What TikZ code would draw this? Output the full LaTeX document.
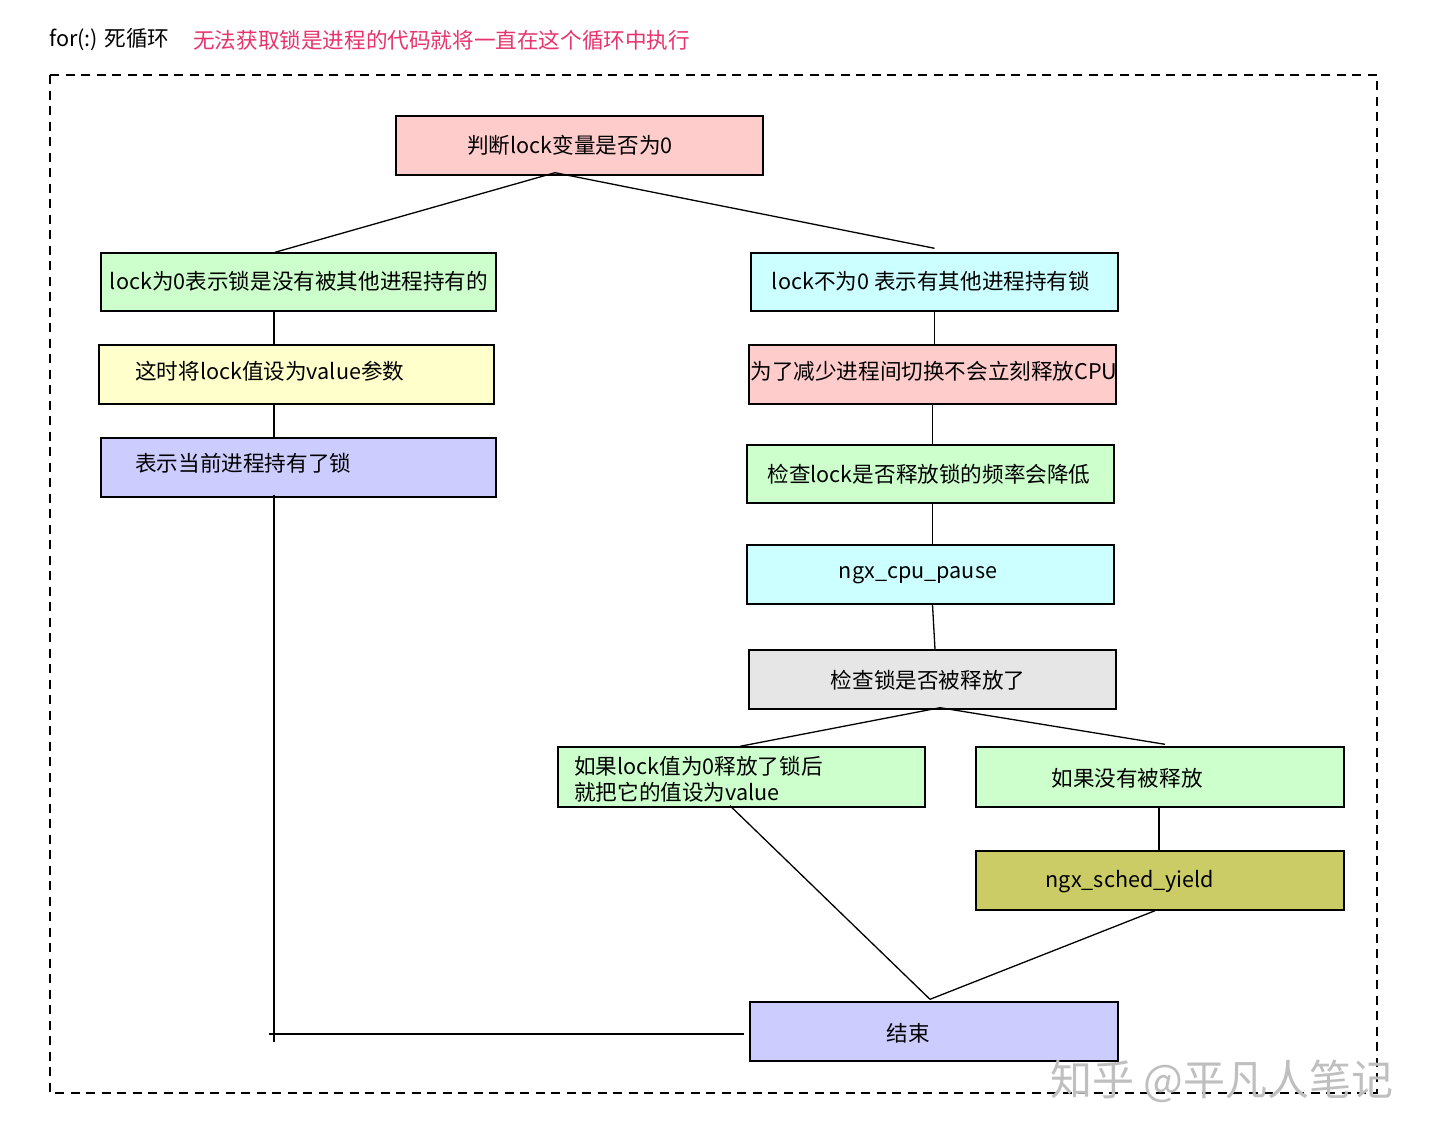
\documentclass[tikz,border=0pt]{standalone}
\usepackage{fontspec}
\setmainfont{Noto Sans CJK SC}
\definecolor{cpink}{RGB}{255,204,204}
\definecolor{cgreen}{RGB}{204,255,204}
\definecolor{ccyan}{RGB}{204,255,255}
\definecolor{cyellow}{RGB}{255,255,204}
\definecolor{cblue}{RGB}{204,204,255}
\definecolor{cgray}{RGB}{230,230,230}
\definecolor{colive}{RGB}{204,204,102}
\definecolor{cred}{RGB}{232,52,110}
\begin{document}
\begin{tikzpicture}[x=1pt,y=-1pt,
  box/.style={draw=black,line width=1.4pt,inner sep=0pt,minimum width=367pt,minimum height=59pt},
  txt/.style={inner sep=0pt,font=\fontsize{21.6}{26}\selectfont,text=black},
  conn/.style={draw=black,line width=1.3pt}]
\useasboundingbox (0,0) rectangle (1440,1140);
\fill[white] (0,0) rectangle (1440,1140);

% title
\node[txt,anchor=west] (t1) at (49,40) {for(:) 死循环};
\node[txt,anchor=west,text=cred] (t2) at (193,40) {无法获取锁是进程的代码就将一直在这个循环中执行};

% dashed frame
\draw[line width=1.4pt,dash pattern=on 9pt off 6.5pt] (50,75) rectangle (1377,1093);

% boxes
\node[box,fill=cpink] (A) at (579.5,145.5) {};
\node[box,fill=cgreen,minimum width=395pt,minimum height=58pt] (B) at (298.5,282) {};
\node[box,fill=ccyan,minimum height=58pt] (C) at (934.5,282) {};
\node[box,fill=cyellow,minimum width=395pt] (D) at (296.5,374.5) {};
\node[box,fill=cblue,minimum width=395pt] (E) at (298.5,467.5) {};
\node[box,fill=cpink] (F) at (932.5,374.5) {};
\node[box,fill=cgreen,minimum height=58pt] (G) at (930.5,474) {};
\node[box,fill=ccyan] (H) at (930.5,574.5) {};
\node[box,fill=cgray] (I) at (932.5,679.5) {};
\node[box,fill=cgreen,minimum height=60pt] (J) at (741.5,777) {};
\node[box,fill=cgreen,minimum width=368pt,minimum height=60pt] (K) at (1160,777) {};
\node[box,fill=colive,minimum width=368pt] (L) at (1160,880.5) {};
\node[box,fill=cblue,minimum width=368pt] (M) at (934,1031.5) {};

% texts
\node[txt] (At) at (570,145) {判断lock变量是否为0};
\node[txt] (Bt) at (299,281) {lock为0表示锁是没有被其他进程持有的};
\node[txt] (Ct) at (931,281) {lock不为0 表示有其他进程持有锁};
\node[txt,anchor=west] (Dt) at (135,371) {这时将lock值设为value参数};
\node[txt,anchor=west] (Et) at (135,463) {表示当前进程持有了锁};
\node[txt] (Ft) at (934,371) {为了减少进程间切换不会立刻释放CPU};
\node[txt] (Gt) at (929,474) {检查lock是否释放锁的频率会降低};
\node[txt] (Ht) at (918,575) {ngx\_cpu\_pause};
\node[txt] (It) at (928,680) {检查锁是否被释放了};
\node[txt,anchor=north west,align=left] (Jt) at (574,756) {如果lock值为0释放了锁后\\就把它的值设为value};
\node[txt] (Kt) at (1127,778) {如果没有被释放};
\node[txt] (Lt) at (1130,882) {ngx\_sched\_yield};
\node[txt] (Mt) at (908,1033) {结束};

% connectors
\draw[conn] ([xshift=-24.5pt,yshift=3pt]A.south) -- ([xshift=-23.5pt]B.north);
\draw[conn] ([xshift=-24.5pt,yshift=3pt]A.south) -- ([yshift=4pt]C.north);
\draw[conn] ([xshift=-24.5pt]B.south) -- ([xshift=-22.5pt]D.north);
\draw[conn] ([xshift=-22.5pt]D.south) -- ([xshift=-24.5pt]E.north);
\coordinate (vend) at (274,1042);
\coordinate (hend) at (269,1034);
\draw[conn] ([xshift=-24.5pt,yshift=3pt]E.south) -- (vend);
\draw[conn] (hend) -- ([xshift=-5pt,yshift=-2.5pt]M.west);
\draw[conn] (C.south) -- ([xshift=2pt]F.north);
\draw[conn] (F.south) -- ([xshift=2pt]G.north);
\draw[conn] ([xshift=2pt]G.south) -- ([xshift=2pt]H.north);
\draw[conn] ([xshift=2pt]H.south) -- ([xshift=2.5pt]I.north);
\draw[conn] ([xshift=7.5pt,yshift=2pt]I.south) -- ([xshift=-1.5pt]J.north);
\draw[conn] ([xshift=7.5pt,yshift=2pt]I.south) -- ([xshift=5pt,yshift=2pt]K.north);
\draw[conn] ([xshift=-1pt]K.south) -- ([xshift=-1pt]L.north);
\draw[conn] ([xshift=-11.5pt,yshift=2pt]J.south) -- ([xshift=-4pt,yshift=2pt]M.north);
\draw[conn] ([xshift=-5pt]L.south) -- ([xshift=-4pt,yshift=2pt]M.north);

% watermark
\node[inner sep=0pt,anchor=west,font=\fontsize{42}{44}\selectfont,text=black!25] (wm) at (1050,1081) {知乎 @平凡人笔记};
\end{tikzpicture}
\end{document}
